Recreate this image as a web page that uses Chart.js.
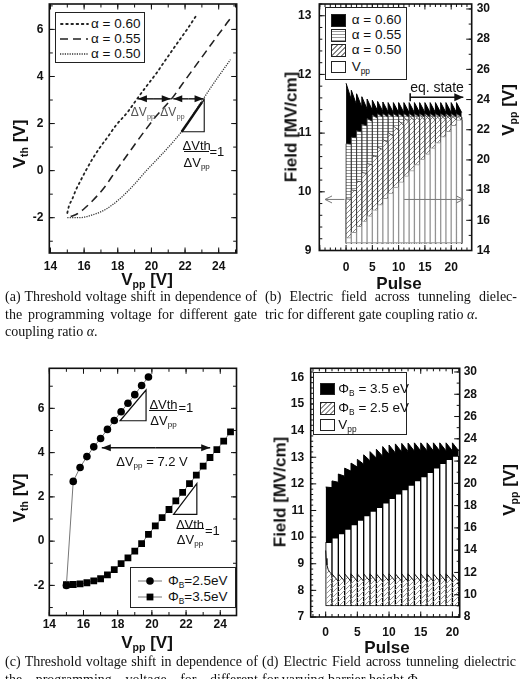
<!DOCTYPE html>
<html><head><meta charset="utf-8">
<script src="https://cdn.jsdelivr.net/npm/chart.js@4.4.0/dist/chart.umd.min.js"></script>
<style>
html,body{margin:0;padding:0;background:#fff;}
body{width:520px;height:679px;position:relative;overflow:hidden;font-family:"Liberation Sans",Arial,sans-serif;color:#111;}
canvas{position:absolute;}
.t{position:absolute;white-space:nowrap;line-height:1;}
.ttl{font-weight:bold;font-size:17px;}
.rot{transform:translate(-50%,-50%) rotate(-90deg);}
.ctr{transform:translate(-50%,-50%);}
.lft{transform:translateY(-50%);}
sub{font-size:62%;vertical-align:-0.35em;line-height:0;}
.leg{position:absolute;border:1.3px solid #222;background:#fff;box-sizing:border-box;}
.lt{font-size:13.5px;}
.sq{position:absolute;box-sizing:border-box;border:1px solid #222;width:15px;height:12.5px;}
.an{font-size:13px;}
.fl{position:absolute;border-top:1px solid #111;height:0;}
.cap{position:absolute;font-family:"Liberation Serif","DejaVu Serif",serif;font-size:14px;line-height:17.5px;color:#111;}
.cap div{text-align:justify;text-align-last:justify;height:17.5px;overflow:hidden;}
.cap div.last{text-align-last:left;}
</style>
</head>
<body>
<canvas id="ca" width="260" height="290" style="left:0;top:0"></canvas>
<canvas id="cb" width="260" height="290" style="left:260px;top:0"></canvas>
<canvas id="cc" width="260" height="320" style="left:0;top:330px"></canvas>
<canvas id="cd" width="260" height="320" style="left:260px;top:330px"></canvas>

<!-- axis titles -->
<div class="t ttl rot" style="left:19px;top:144px">V<sub>th</sub> [V]</div>
<div class="t ttl ctr" style="left:147px;top:279px">V<sub>pp</sub> [V]</div>
<div class="t ttl rot" style="left:291px;top:127px">Field [MV/cm]</div>
<div class="t ttl rot" style="left:508px;top:110px">V<sub>pp</sub> [V]</div>
<div class="t ttl ctr" style="left:399px;top:283px">Pulse</div>
<div class="t ttl rot" style="left:19px;top:498px">V<sub>th</sub> [V]</div>
<div class="t ttl ctr" style="left:147px;top:642px">V<sub>pp</sub> [V]</div>
<div class="t ttl rot" style="left:280px;top:492px">Field [MV/cm]</div>
<div class="t ttl rot" style="left:509px;top:490px">V<sub>pp</sub> [V]</div>
<div class="t ttl ctr" style="left:387px;top:647px">Pulse</div>

<!-- legend a -->
<div class="leg" style="left:55px;top:11.7px;width:90px;height:51.6px"></div>
<svg style="position:absolute;left:60px;top:21px" width="30" height="6"><line x1="1" y1="3" x2="28" y2="3" stroke="#222" stroke-width="1.8" stroke-dasharray="1.6 3.6" stroke-linecap="round"/></svg>
<svg style="position:absolute;left:60px;top:36.3px" width="30" height="6"><line x1="0" y1="3" x2="28" y2="3" stroke="#222" stroke-width="1.6" stroke-dasharray="8 5"/></svg>
<svg style="position:absolute;left:60px;top:51px" width="30" height="6"><line x1="0" y1="3" x2="28" y2="3" stroke="#333" stroke-width="1.3" stroke-dasharray="1.2 1.2"/></svg>
<div class="t lt lft" style="left:91px;top:24px">α = 0.60</div>
<div class="t lt lft" style="left:91px;top:39.3px">α = 0.55</div>
<div class="t lt lft" style="left:91px;top:54px">α = 0.50</div>

<!-- legend b -->
<div class="leg" style="left:325px;top:7.3px;width:81.7px;height:72.7px"></div>
<div class="sq" style="left:330.7px;top:14px;background:#000"></div>
<div class="sq" style="left:330.7px;top:29px;background:repeating-linear-gradient(0deg,#999 0 1px,#fff 1px 3px)"></div>
<div class="sq" style="left:330.7px;top:44px;background:repeating-linear-gradient(135deg,#888 0 1px,#fff 1px 3.5px)"></div>
<div class="sq" style="left:330.7px;top:60.5px;background:#fff"></div>
<div class="t lt lft" style="left:351.7px;top:20px">α = 0.60</div>
<div class="t lt lft" style="left:351.7px;top:35px">α = 0.55</div>
<div class="t lt lft" style="left:351.7px;top:50px">α = 0.50</div>
<div class="t lt lft" style="left:351.7px;top:66.7px">V<sub>pp</sub></div>

<!-- legend c -->
<div class="leg" style="left:130px;top:567.3px;width:105.5px;height:41px"></div>
<svg style="position:absolute;left:137px;top:575px" width="28" height="12"><line x1="1" y1="6" x2="25" y2="6" stroke="#777" stroke-width="1"/><circle cx="13" cy="6" r="3.8" fill="#000"/></svg>
<svg style="position:absolute;left:137px;top:591.3px" width="28" height="12"><line x1="1" y1="6" x2="25" y2="6" stroke="#777" stroke-width="1"/><rect x="9.6" y="2.6" width="6.8" height="6.8" fill="#000"/></svg>
<div class="t lt lft" style="left:168px;top:580.7px">Φ<sub>B</sub>=2.5eV</div>
<div class="t lt lft" style="left:168px;top:597.3px">Φ<sub>B</sub>=3.5eV</div>

<!-- legend d -->
<div class="leg" style="left:313.3px;top:371.7px;width:93.4px;height:63.3px"></div>
<div class="sq" style="left:320px;top:382.7px;background:#000"></div>
<div class="sq" style="left:320px;top:402px;background:repeating-linear-gradient(135deg,#999 0 1px,#fff 1px 3.5px)"></div>
<div class="sq" style="left:320px;top:418.7px;background:#fff"></div>
<div class="t lt lft" style="left:338.3px;top:389px">Φ<sub>B</sub> = 3.5 eV</div>
<div class="t lt lft" style="left:338.3px;top:408.3px">Φ<sub>B</sub> = 2.5 eV</div>
<div class="t lt lft" style="left:338.3px;top:425px">V<sub>pp</sub></div>

<!-- annotations a -->
<div class="t an ctr" style="left:143px;top:112px;color:#555;font-size:12px">ΔV<sub>pp</sub></div>
<div class="t an ctr" style="left:172.5px;top:112px;color:#555;font-size:12px">ΔV<sub>pp</sub></div>
<div class="t an ctr" style="left:196.7px;top:145px">ΔVth</div>
<div class="fl" style="left:184.3px;top:151.2px;width:25px"></div>
<div class="t an ctr" style="left:196.7px;top:161.5px">ΔV<sub>pp</sub></div>
<div class="t an lft" style="left:209.5px;top:151px">=1</div>
<!-- annotations b -->
<div class="t ctr" style="left:437px;top:87px;font-size:14px">eq. state</div>
<!-- annotations c -->
<div class="t an ctr" style="left:152px;top:461px">ΔV<sub>pp</sub> = 7.2 V</div>
<div class="t an ctr" style="left:163.5px;top:404px">ΔVth</div>
<div class="fl" style="left:149.3px;top:410px;width:28px"></div>
<div class="t an ctr" style="left:163.5px;top:420px">ΔV<sub>pp</sub></div>
<div class="t an lft" style="left:178.5px;top:407px">=1</div>
<div class="t an ctr" style="left:190px;top:523.5px">ΔVth</div>
<div class="fl" style="left:176.7px;top:528.3px;width:27px"></div>
<div class="t an ctr" style="left:190px;top:539px">ΔV<sub>pp</sub></div>
<div class="t an lft" style="left:205px;top:530px">=1</div>

<!-- captions -->
<div class="cap" style="left:5px;top:288px;width:252px">
<div>(a) Threshold voltage shift in dependence of</div>
<div>the programming voltage for different gate</div>
<div class="last">coupling ratio <i>α</i>.</div>
</div>
<div class="cap" style="left:265px;top:288px;width:252px">
<div>(b) Electric field across tunneling dielec-</div>
<div class="last">tric for different gate coupling ratio <i>α</i>.</div>
</div>
<div class="cap" style="left:5px;top:653px;width:253px">
<div>(c) Threshold voltage shift in dependence of</div>
<div>the programming voltage for different barrier</div>
</div>
<div class="cap" style="left:262px;top:653px;width:254px">
<div>(d) Electric Field across tunneling dielectric</div>
<div class="last">for varying barrier height Φ<sub>B</sub>.</div>
</div>

<script>
// ---------------- data ----------------
// (a) threshold voltage vs Vpp for different coupling ratios
const a60X = [15.0, 15.1, 15.3, 15.5, 15.8, 16.1, 16.5, 16.9, 17.4, 17.9, 18.6, 19.15, 19.7, 20.3, 20.8, 21.5, 22.1, 22.66];
const a60Y = [-1.8, -1.5, -1.2, -0.84, -0.41, 0.0, 0.5, 0.94, 1.43, 1.93, 2.5, 3.05, 3.58, 4.14, 4.66, 5.38, 5.98, 6.58];
const a55X = [15.2, 15.6, 16.0, 16.5, 17.2, 17.8, 18.5, 19.1, 19.7, 20.3, 21.2, 22.0, 23.0, 24.0, 24.7];
const a55Y = [-1.95, -1.83, -1.62, -1.28, -0.72, -0.1, 0.6, 1.2, 1.78, 2.33, 3.05, 3.84, 4.82, 5.8, 6.47];
const a50X = [15.0, 15.7, 16.5, 17.3, 18.1, 18.9, 19.7, 20.5, 21.3, 21.8, 22.6, 23.5, 24.7];
const a50Y = [-2.0, -2.0, -1.88, -1.64, -1.21, -0.65, 0.0, 0.6, 1.23, 1.66, 2.52, 3.5, 4.72];

// (b) field per pulse for different alpha (peak at pulse start, value at pulse end)
const b60Peak   = [11.85, 11.73, 11.67, 11.62, 11.58, 11.56, 11.54, 11.53, 11.52, 11.52, 11.52, 11.52, 11.52, 11.52, 11.52, 11.52, 11.52, 11.52, 11.52, 11.52, 11.52, 11.52];
const b60Trough = [11.57, 11.48, 11.44, 11.41, 11.39, 11.38, 11.37, 11.36, 11.35, 11.35, 11.35, 11.35, 11.35, 11.35, 11.35, 11.35, 11.35, 11.35, 11.35, 11.35, 11.35, 11.35];
const b55Peak   = [10.82, 10.93, 11.04, 11.15, 11.25, 11.31, 11.33, 11.33, 11.33, 11.33, 11.33, 11.33, 11.33, 11.33, 11.33, 11.33, 11.33, 11.33, 11.33, 11.33, 11.33, 11.33];
const b55Trough = [10.81, 10.92, 11.02, 11.12, 11.2, 11.25, 11.27, 11.27, 11.27, 11.27, 11.27, 11.27, 11.27, 11.27, 11.27, 11.27, 11.27, 11.27, 11.27, 11.27, 11.27, 11.27];
const b50Peak   = [9.88, 10.03, 10.18, 10.33, 10.48, 10.62, 10.76, 10.89, 11.01, 11.12, 11.21, 11.27, 11.3, 11.31, 11.31, 11.31, 11.31, 11.31, 11.31, 11.31, 11.31, 11.31];
const b50Trough = [9.87, 10.02, 10.17, 10.31, 10.46, 10.59, 10.72, 10.84, 10.95, 11.05, 11.13, 11.18, 11.21, 11.22, 11.22, 11.22, 11.22, 11.22, 11.22, 11.22, 11.22, 11.22];
const bVpp = [14.85, 15.2, 15.6, 15.95, 16.3, 16.7, 17.05, 17.45, 17.8, 18.2, 18.55, 18.95, 19.3, 19.7, 20.05, 20.4, 20.8, 21.15, 21.55, 21.9, 22.3, 22.65];
const bVppBase = 14.5;
const bFieldBase = 9.12;

// (c) threshold voltage vs Vpp for different barrier heights
const c25X = [15.0, 15.4, 15.8, 16.2, 16.6, 17.0, 17.4, 17.8, 18.2, 18.6, 19.0, 19.4, 19.8];
const c25Y = [-2.0, 2.7, 3.33, 3.82, 4.26, 4.64, 5.05, 5.45, 5.85, 6.23, 6.62, 7.03, 7.42];
const c35X = [15.0, 15.4, 15.8, 16.2, 16.6, 17.0, 17.4, 17.8, 18.2, 18.6, 19.0, 19.4, 19.8, 20.2, 20.6, 21.0, 21.4, 21.8, 22.2, 22.6, 23.0, 23.4, 23.8, 24.2, 24.6];
const c35Y = [-1.97, -1.96, -1.93, -1.88, -1.8, -1.7, -1.52, -1.29, -1.02, -0.76, -0.45, -0.11, 0.31, 0.69, 1.06, 1.43, 1.82, 2.2, 2.6, 2.98, 3.39, 3.78, 4.14, 4.52, 4.94];

// (d) field per pulse for different barrier heights
const d35Peak   = [11.88, 12.11, 12.37, 12.59, 12.78, 12.92, 13.09, 13.21, 13.3, 13.4, 13.46, 13.5, 13.52, 13.53, 13.54, 13.54, 13.54, 13.54, 13.54, 13.54, 13.54];
const d35Trough = [11.86, 12.06, 12.29, 12.48, 12.63, 12.74, 12.87, 12.97, 13.04, 13.11, 13.16, 13.2, 13.22, 13.23, 13.24, 13.24, 13.24, 13.24, 13.24, 13.24, 13.24];
const d25Peak   = [9.5, 8.62, 8.62, 8.62, 8.62, 8.62, 8.62, 8.62, 8.62, 8.62, 8.62, 8.62, 8.62, 8.62, 8.62, 8.62, 8.62, 8.62, 8.62, 8.62, 8.62];
const d25Trough = [8.6, 8.34, 8.34, 8.34, 8.34, 8.34, 8.34, 8.34, 8.34, 8.34, 8.34, 8.34, 8.34, 8.34, 8.34, 8.34, 8.34, 8.34, 8.34, 8.34, 8.34];
const d25FirstDecayX = [0.08, 0.2, 0.4, 0.65];
const d25FirstDecayY = [9.2, 8.95, 8.78, 8.68];
const dVpp = [14.7, 15.1, 15.5, 15.9, 16.3, 16.7, 17.1, 17.5, 17.85, 18.25, 18.65, 19.05, 19.45, 19.85, 20.25, 20.6, 21.0, 21.4, 21.8, 22.15, 22.45];
const dVppBase = 9.0;
const dFieldBase = 7.44;

// ---------------- helpers ----------------
const FONT = '"Liberation Sans", Arial, sans-serif';
const TF = {family: FONT, size: 12, weight: 'bold'};
const pts = (xs, ys) => xs.map((x, i) => ({x, y: ys[i]}));
function saw(peaks, troughs, extraX, extraY) {
  const out = [];
  peaks.forEach((p, i) => {
    out.push({x: i, y: p});
    if (i === 0 && extraX) extraX.forEach((x, k) => out.push({x, y: extraY[k]}));
    out.push({x: i + 1, y: troughs[i]});
  });
  return out;
}
// sawtooth where every pulse is its own block dropping back to the base (gives the vertical pulse edges)
function sawBlocks(peaks, troughs, base) {
  const out = [];
  peaks.forEach((p, i) => {
    out.push({x: i, y: base}); out.push({x: i, y: p});
    out.push({x: i + 1, y: troughs[i]}); out.push({x: i + 1, y: base});
  });
  return out;
}
const bars = (vals, base) => vals.map((v, i) => ({x: i + 0.5, y: [base, v]}));
function hatch(kind, color, bg, size) {
  const c = document.createElement('canvas'); c.width = size; c.height = size;
  const g = c.getContext('2d');
  if (bg) { g.fillStyle = bg; g.fillRect(0, 0, size, size); }
  g.strokeStyle = color; g.lineWidth = 1;
  g.beginPath();
  if (kind === 'h') { g.moveTo(0, size - 0.5); g.lineTo(size, size - 0.5); }
  else { g.moveTo(0, size); g.lineTo(size, 0); g.moveTo(-1, 1); g.lineTo(1, -1); g.moveTo(size - 1, size + 1); g.lineTo(size + 1, size - 1); }
  g.stroke();
  return g.createPattern(c, 'repeat');
}

const frameTicks = {
  id: 'frameTicks',
  afterDraw(chart, args, opts) {
    const {ctx, chartArea: a} = chart;
    ctx.save();
    ctx.strokeStyle = '#111';
    ctx.lineWidth = 1;
    for (const t of (opts.ticks || [])) {
      const s = chart.scales[t.scale];
      const k0 = Math.ceil(s.min / t.step - 1e-6), k1 = Math.floor(s.max / t.step + 1e-6);
      for (let k = k0; k <= k1; k++) {
        const p = s.getPixelForValue(k * t.step);
        ctx.beginPath();
        for (const side of t.sides) {
          if (side === 'bottom') { ctx.moveTo(p, a.bottom); ctx.lineTo(p, a.bottom - t.len); }
          if (side === 'top') { ctx.moveTo(p, a.top); ctx.lineTo(p, a.top + t.len); }
          if (side === 'left') { ctx.moveTo(a.left, p); ctx.lineTo(a.left + t.len, p); }
          if (side === 'right') { ctx.moveTo(a.right, p); ctx.lineTo(a.right - t.len, p); }
        }
        ctx.stroke();
      }
    }
    ctx.lineWidth = 1.6;
    ctx.strokeRect(a.left, a.top, a.right - a.left, a.bottom - a.top);
    ctx.restore();
  }
};

const annot = {
  id: 'annot',
  afterDatasetsDraw(chart, args, opts) {
    if (!opts || !opts.items) return;
    const {ctx} = chart, sx = chart.scales.x, sy = chart.scales.y;
    const P = p => [sx.getPixelForValue(p[0]), sy.getPixelForValue(p[1])];
    ctx.save();
    for (const it of opts.items) {
      ctx.strokeStyle = it.color || '#111'; ctx.fillStyle = it.color || '#111';
      ctx.lineWidth = it.width || 1;
      if (it.type === 'poly') {
        ctx.beginPath();
        it.pts.forEach((p, k) => { const q = P(p); if (k) ctx.lineTo(q[0], q[1]); else ctx.moveTo(q[0], q[1]); });
        if (it.close) ctx.closePath();
        ctx.stroke();
      } else if (it.type === 'arrow') {
        const a = P(it.from), b = P(it.to);
        ctx.beginPath(); ctx.moveTo(a[0], a[1]); ctx.lineTo(b[0], b[1]); ctx.stroke();
        const head = (tip, tail) => {
          const ang = Math.atan2(tip[1] - tail[1], tip[0] - tail[0]);
          const L = it.len || 9, W = it.hw || 3.5;
          const bx = tip[0] - L * Math.cos(ang), by = tip[1] - L * Math.sin(ang);
          const px = -Math.sin(ang) * W, py = Math.cos(ang) * W;
          ctx.beginPath(); ctx.moveTo(bx + px, by + py); ctx.lineTo(tip[0], tip[1]); ctx.lineTo(bx - px, by - py);
          if (it.open) ctx.stroke(); else { ctx.closePath(); ctx.fill(); }
        };
        head(b, a);
        if (it.both) head(a, b);
        if (it.bar) { ctx.beginPath(); ctx.moveTo(a[0], a[1] - 4); ctx.lineTo(a[0], a[1] + 4); ctx.stroke(); }
      }
    }
    ctx.restore();
  }
};

function xScale(min, max, step, pad, h, cb) {
  return {type: 'linear', min, max, offset: false, grid: {display: false, drawTicks: false}, border: {display: false},
    ticks: {stepSize: step, includeBounds: false, padding: pad, font: TF, color: '#111', maxRotation: 0, autoSkip: false, callback: cb || (v => v)},
    afterFit: s => { s.height = h; s.paddingLeft = 0; s.paddingRight = 0; }};
}
function yScale(min, max, step, pad, w, pos) {
  return {type: 'linear', position: pos || 'left', min, max, grid: {display: false, drawTicks: false}, border: {display: false},
    ticks: {stepSize: step, includeBounds: false, padding: pad, font: TF, color: '#111', autoSkip: false, callback: v => v},
    afterFit: s => { s.width = w; s.paddingTop = 0; s.paddingBottom = 0; }};
}
const baseOpts = (padding) => ({responsive: false, animation: false, events: [], layout: {padding}});
const noLeg = {legend: {display: false}, tooltip: {enabled: false}};

// ---------------- (a) ----------------
new Chart(document.getElementById('ca'), {
  type: 'line',
  data: {datasets: [
    {data: pts(a60X, a60Y), borderColor: '#222', borderWidth: 1.8, borderDash: [1.6, 3.6], borderCapStyle: 'round', pointRadius: 0, cubicInterpolationMode: 'monotone'},
    {data: pts(a55X, a55Y), borderColor: '#222', borderWidth: 1.6, borderDash: [8, 5], pointRadius: 0, cubicInterpolationMode: 'monotone'},
    {data: pts(a50X, a50Y), borderColor: '#333', borderWidth: 1.3, borderDash: [1.2, 1.2], pointRadius: 0, cubicInterpolationMode: 'monotone'}
  ]},
  options: Object.assign(baseOpts({left: 0, right: 23.3, top: 4, bottom: 0}), {
    plugins: Object.assign({}, noLeg, {
      frameTicks: {ticks: [
        {scale: 'x', step: 1, len: 3.5, sides: ['bottom', 'top']},
        {scale: 'x', step: 2, len: 5.5, sides: ['bottom', 'top']},
        {scale: 'y', step: 1, len: 3.5, sides: ['left', 'right']},
        {scale: 'y', step: 2, len: 5.5, sides: ['left', 'right']}]},
      annot: {items: [
        {type: 'arrow', from: [20.15, 3.05], to: [19.2, 3.05], width: 1.4},
        {type: 'arrow', from: [20.15, 3.05], to: [21.15, 3.05], width: 1.4},
        {type: 'arrow', from: [22.2, 3.05], to: [21.3, 3.05], width: 1.4},
        {type: 'arrow', from: [22.2, 3.05], to: [23.1, 3.05], width: 1.4},
        {type: 'poly', pts: [[21.8, 1.65], [23.14, 3.02], [23.14, 1.65]], close: true, width: 1.1},
        {type: 'poly', pts: [[21.8, 1.65], [23.0, 2.9]], width: 2.4}
      ]}
    }),
    scales: {x: xScale(13.93, 25.07, 2, 6.5, 37), y: yScale(-3.5, 7.08, 2, 6, 49.3)}
  }),
  plugins: [frameTicks, annot]
});

// ---------------- (b) ----------------
const hatchH = hatch('h', '#999', '#fff', 3);
const hatchD = hatch('d', '#888', '#fff', 5);
new Chart(document.getElementById('cb'), {
  type: 'line',
  data: {datasets: [
    {data: saw(b60Peak, b60Trough), borderColor: '#000', borderWidth: 1, backgroundColor: '#000', fill: {value: bFieldBase}, pointRadius: 0, tension: 0, order: 5},
    {data: sawBlocks(b55Peak, b55Trough, bFieldBase), borderColor: '#333', borderWidth: 0.8, backgroundColor: hatchH, fill: {value: bFieldBase}, pointRadius: 0, tension: 0, order: 4},
    {data: sawBlocks(b50Peak, b50Trough, bFieldBase), borderColor: '#333', borderWidth: 0.8, backgroundColor: hatchD, fill: {value: bFieldBase}, pointRadius: 0, tension: 0, order: 3},
    {type: 'bar', data: bars(bVpp, bVppBase), yAxisID: 'y2', backgroundColor: '#fff', borderColor: '#999', borderWidth: 1, borderSkipped: false, barPercentage: 1, categoryPercentage: 1, order: 2}
  ]},
  options: Object.assign(baseOpts({left: 0, right: 0, top: 4, bottom: 0}), {
    plugins: Object.assign({}, noLeg, {
      frameTicks: {ticks: [
        {scale: 'x', step: 1, len: 3, sides: ['bottom', 'top']},
        {scale: 'x', step: 5, len: 5.5, sides: ['bottom', 'top']},
        {scale: 'y', step: 0.2, len: 3, sides: ['left']},
        {scale: 'y', step: 1, len: 5.5, sides: ['left']},
        {scale: 'y2', step: 1, len: 3, sides: ['right']},
        {scale: 'y2', step: 2, len: 5.5, sides: ['right']}]},
      annot: {items: [
        {type: 'arrow', from: [-0.3, 9.87], to: [-4.0, 9.87], open: true, color: '#777', len: 7, hw: 3.5},
        {type: 'arrow', from: [11.05, 9.87], to: [22.3, 9.87], open: true, color: '#777', len: 7, hw: 3.5},
        {type: 'arrow', from: [12.2, 11.61], to: [22.3, 11.61], bar: true, width: 1.6, len: 9, hw: 4}
      ]}
    }),
    scales: {
      x: xScale(-5.09, 23.9, 5, 10, 39.5, v => (v < 0 ? '' : v)),
      y: yScale(9, 13.2, 1, 8, 59.3),
      y2: yScale(14, 30.33, 2, 5, 48.3, 'right')
    }
  }),
  plugins: [frameTicks, annot]
});

// ---------------- (c) ----------------
new Chart(document.getElementById('cc'), {
  type: 'line',
  data: {datasets: [
    {data: pts(c25X, c25Y), borderColor: '#777', borderWidth: 1, pointStyle: 'circle', pointRadius: 3.8, pointBackgroundColor: '#000', pointBorderColor: '#000', pointBorderWidth: 0, tension: 0},
    {data: pts(c35X, c35Y), borderColor: '#777', borderWidth: 1, pointStyle: 'rect', pointRadius: 4.8, pointBackgroundColor: '#000', pointBorderColor: '#000', pointBorderWidth: 0, tension: 0}
  ]},
  options: Object.assign(baseOpts({left: 0, right: 23.5, top: 38.3, bottom: 0}), {
    plugins: Object.assign({}, noLeg, {
      frameTicks: {ticks: [
        {scale: 'x', step: 1, len: 3.5, sides: ['bottom', 'top']},
        {scale: 'x', step: 2, len: 5.5, sides: ['bottom', 'top']},
        {scale: 'y', step: 1, len: 3.5, sides: ['left', 'right']},
        {scale: 'y', step: 2, len: 5.5, sides: ['left', 'right']}]},
      annot: {items: [
        {type: 'arrow', from: [20.2, 4.22], to: [17.07, 4.22], width: 1.3},
        {type: 'arrow', from: [20.2, 4.22], to: [23.41, 4.22], width: 1.3},
        {type: 'poly', pts: [[18.14, 5.44], [19.66, 6.83], [19.66, 5.44]], close: true, width: 1.2},
        {type: 'poly', pts: [[21.27, 1.21], [22.63, 2.6], [22.63, 1.21]], close: true, width: 1.2}
      ]}
    }),
    scales: {x: xScale(14, 24.95, 2, 2, 34.5), y: yScale(-3.36, 7.81, 2, 5, 49.3)}
  }),
  plugins: [frameTicks, annot]
});

// ---------------- (d) ----------------
const hatchD2 = hatch('d', '#999', null, 5);
new Chart(document.getElementById('cd'), {
  type: 'line',
  data: {datasets: [
    {data: saw(d35Peak, d35Trough), borderColor: '#000', borderWidth: 1, backgroundColor: '#000', fill: {value: dFieldBase}, pointRadius: 0, tension: 0, order: 5},
    {type: 'bar', data: bars(dVpp, dVppBase), yAxisID: 'y2', backgroundColor: '#fff', borderColor: '#000', borderWidth: 1, borderSkipped: false, barPercentage: 1, categoryPercentage: 1, order: 3},
    {data: saw(d25Peak, d25Trough, d25FirstDecayX, d25FirstDecayY), borderColor: '#111', borderWidth: 1, backgroundColor: hatchD2, fill: {value: dFieldBase}, pointRadius: 0, tension: 0, order: 1}
  ]},
  options: Object.assign(baseOpts({left: 0, right: 0, top: 38.3, bottom: 0}), {
    plugins: Object.assign({}, noLeg, {
      frameTicks: {ticks: [
        {scale: 'x', step: 1, len: 3, sides: ['bottom', 'top']},
        {scale: 'x', step: 5, len: 5.5, sides: ['bottom', 'top']},
        {scale: 'y', step: 0.2, len: 2.5, sides: ['left']},
        {scale: 'y', step: 1, len: 5.5, sides: ['left']},
        {scale: 'y2', step: 1, len: 3, sides: ['right']},
        {scale: 'y2', step: 2, len: 5.5, sides: ['right']}]}
    }),
    scales: {
      x: xScale(-2.36, 21.15, 5, 8.5, 33),
      y: yScale(7, 16.34, 1, 6.5, 50.7),
      y2: yScale(8, 30.33, 2, 4, 60.3, 'right')
    }
  }),
  plugins: [frameTicks]
});
</script>
</body></html>
